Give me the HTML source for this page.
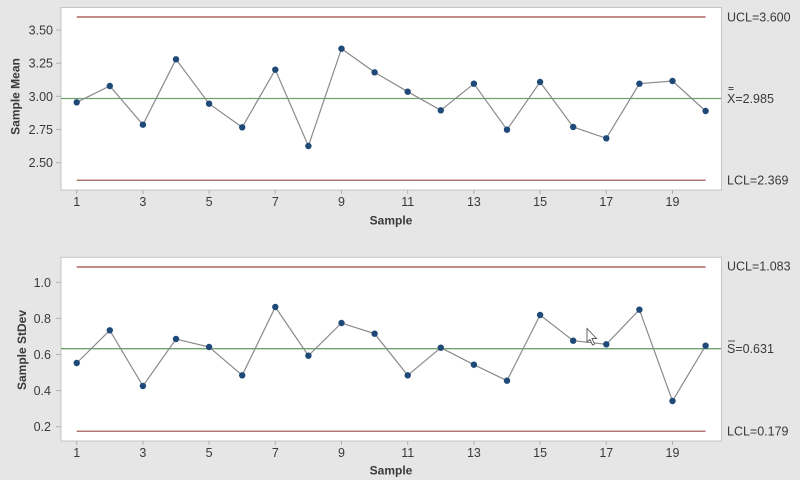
<!DOCTYPE html>
<html><head><meta charset="utf-8"><style>
html,body{margin:0;padding:0;background:#e6e6e6;}
svg{display:block;}
text{font-family:"Liberation Sans",sans-serif;fill:#3a3a3a;}
.t{font-size:12.5px;}
.b{font-size:12px;font-weight:bold;}
</style></head><body>
<svg width="800" height="480" viewBox="0 0 800 480" xmlns="http://www.w3.org/2000/svg">
<rect width="800" height="480" fill="#e6e6e6"/>
<!-- TOP CHART -->
<rect x="61" y="7.5" width="660.5" height="182.5" fill="#fff" stroke="#c4c4c4" stroke-width="1"/>
<g stroke="#b0b0b0" stroke-width="1">
<line x1="56" y1="30" x2="61" y2="30"/><line x1="56" y1="63.2" x2="61" y2="63.2"/><line x1="56" y1="96.3" x2="61" y2="96.3"/><line x1="56" y1="129.5" x2="61" y2="129.5"/><line x1="56" y1="162.7" x2="61" y2="162.7"/>
<line x1="76.7" y1="190" x2="76.7" y2="194"/><line x1="142.9" y1="190" x2="142.9" y2="194"/><line x1="209.1" y1="190" x2="209.1" y2="194"/><line x1="275.3" y1="190" x2="275.3" y2="194"/><line x1="341.5" y1="190" x2="341.5" y2="194"/><line x1="407.7" y1="190" x2="407.7" y2="194"/><line x1="473.9" y1="190" x2="473.9" y2="194"/><line x1="540.1" y1="190" x2="540.1" y2="194"/><line x1="606.3" y1="190" x2="606.3" y2="194"/><line x1="672.5" y1="190" x2="672.5" y2="194"/>
</g>
<g class="t" text-anchor="end">
<text x="53" y="34.5">3.50</text><text x="53" y="67.7">3.25</text><text x="53" y="100.8">3.00</text><text x="53" y="134">2.75</text><text x="53" y="167.2">2.50</text>
</g>
<g class="t" text-anchor="middle">
<text x="76.7" y="206">1</text><text x="142.9" y="206">3</text><text x="209.1" y="206">5</text><text x="275.3" y="206">7</text><text x="341.5" y="206">9</text><text x="407.7" y="206">11</text><text x="473.9" y="206">13</text><text x="540.1" y="206">15</text><text x="606.3" y="206">17</text><text x="672.5" y="206">19</text>
</g>
<text class="b" x="391" y="224.5" text-anchor="middle">Sample</text>
<text class="b" transform="translate(19.5,96.5) rotate(-90)" text-anchor="middle">Sample Mean</text>
<line x1="76.7" y1="17" x2="705.6" y2="17" stroke="#9a4a44" stroke-width="1.2"/>
<line x1="76.7" y1="180.2" x2="705.6" y2="180.2" stroke="#9a4a44" stroke-width="1.2"/>
<line x1="61" y1="98.5" x2="721" y2="98.5" stroke="#6fa26f" stroke-width="1.3"/>
<polyline fill="none" stroke="#8a8a8a" stroke-width="1.2" points="76.7,102.3 109.8,86 142.9,124.7 176,59.3 209.1,103.7 242.2,127.3 275.3,69.7 308.4,146 341.5,48.7 374.6,72.3 407.7,91.7 440.8,110.3 473.9,83.7 507,129.7 540.1,82 573.2,127 606.3,138.3 639.4,83.7 672.5,81 705.6,111"/>
<g fill="#1f4a78">
<circle cx="76.7" cy="102.3" r="3.2"/><circle cx="109.8" cy="86" r="3.2"/><circle cx="142.9" cy="124.7" r="3.2"/><circle cx="176" cy="59.3" r="3.2"/><circle cx="209.1" cy="103.7" r="3.2"/><circle cx="242.2" cy="127.3" r="3.2"/><circle cx="275.3" cy="69.7" r="3.2"/><circle cx="308.4" cy="146" r="3.2"/><circle cx="341.5" cy="48.7" r="3.2"/><circle cx="374.6" cy="72.3" r="3.2"/><circle cx="407.7" cy="91.7" r="3.2"/><circle cx="440.8" cy="110.3" r="3.2"/><circle cx="473.9" cy="83.7" r="3.2"/><circle cx="507" cy="129.7" r="3.2"/><circle cx="540.1" cy="82" r="3.2"/><circle cx="573.2" cy="127" r="3.2"/><circle cx="606.3" cy="138.3" r="3.2"/><circle cx="639.4" cy="83.7" r="3.2"/><circle cx="672.5" cy="81" r="3.2"/><circle cx="705.6" cy="111" r="3.2"/>
</g>
<g class="t">
<text x="727" y="21.5">UCL=3.600</text>
<text x="727" y="103">X=2.985</text>
<text x="727" y="184.5">LCL=2.369</text>
</g>
<line x1="728.5" y1="87.5" x2="733.5" y2="87.5" stroke="#3a3a3a" stroke-width="0.9"/>
<line x1="728.5" y1="89.5" x2="733.5" y2="89.5" stroke="#3a3a3a" stroke-width="0.9"/>

<!-- BOTTOM CHART -->
<rect x="61" y="257.3" width="660.5" height="183.7" fill="#fff" stroke="#c4c4c4" stroke-width="1"/>
<g stroke="#b0b0b0" stroke-width="1">
<line x1="56" y1="282.3" x2="61" y2="282.3"/><line x1="56" y1="318.4" x2="61" y2="318.4"/><line x1="56" y1="354.5" x2="61" y2="354.5"/><line x1="56" y1="390.6" x2="61" y2="390.6"/><line x1="56" y1="426.7" x2="61" y2="426.7"/>
<line x1="76.7" y1="441" x2="76.7" y2="445"/><line x1="142.9" y1="441" x2="142.9" y2="445"/><line x1="209.1" y1="441" x2="209.1" y2="445"/><line x1="275.3" y1="441" x2="275.3" y2="445"/><line x1="341.5" y1="441" x2="341.5" y2="445"/><line x1="407.7" y1="441" x2="407.7" y2="445"/><line x1="473.9" y1="441" x2="473.9" y2="445"/><line x1="540.1" y1="441" x2="540.1" y2="445"/><line x1="606.3" y1="441" x2="606.3" y2="445"/><line x1="672.5" y1="441" x2="672.5" y2="445"/>
</g>
<g class="t" text-anchor="end">
<text x="51" y="286.8">1.0</text><text x="51" y="322.9">0.8</text><text x="51" y="359">0.6</text><text x="51" y="395.1">0.4</text><text x="51" y="431.2">0.2</text>
</g>
<g class="t" text-anchor="middle">
<text x="76.7" y="457">1</text><text x="142.9" y="457">3</text><text x="209.1" y="457">5</text><text x="275.3" y="457">7</text><text x="341.5" y="457">9</text><text x="407.7" y="457">11</text><text x="473.9" y="457">13</text><text x="540.1" y="457">15</text><text x="606.3" y="457">17</text><text x="672.5" y="457">19</text>
</g>
<text class="b" x="391" y="474.5" text-anchor="middle">Sample</text>
<text class="b" transform="translate(26,350) rotate(-90)" text-anchor="middle">Sample StDev</text>
<line x1="76.7" y1="267" x2="705.6" y2="267" stroke="#9a4a44" stroke-width="1.2"/>
<line x1="76.7" y1="431.2" x2="705.6" y2="431.2" stroke="#9a4a44" stroke-width="1.2"/>
<line x1="61" y1="348.7" x2="721" y2="348.7" stroke="#6fa26f" stroke-width="1.3"/>
<polyline fill="none" stroke="#8a8a8a" stroke-width="1.2" points="76.7,363 109.8,330.3 142.9,386 176,339 209.1,347 242.2,375.3 275.3,307 308.4,355.7 341.5,323 374.6,333.7 407.7,375.3 440.8,347.7 473.9,364.7 507,380.7 540.1,315 573.2,340.7 606.3,344.3 639.4,309.7 672.5,401 705.6,345.7"/>
<g fill="#1f4a78">
<circle cx="76.7" cy="363" r="3.2"/><circle cx="109.8" cy="330.3" r="3.2"/><circle cx="142.9" cy="386" r="3.2"/><circle cx="176" cy="339" r="3.2"/><circle cx="209.1" cy="347" r="3.2"/><circle cx="242.2" cy="375.3" r="3.2"/><circle cx="275.3" cy="307" r="3.2"/><circle cx="308.4" cy="355.7" r="3.2"/><circle cx="341.5" cy="323" r="3.2"/><circle cx="374.6" cy="333.7" r="3.2"/><circle cx="407.7" cy="375.3" r="3.2"/><circle cx="440.8" cy="347.7" r="3.2"/><circle cx="473.9" cy="364.7" r="3.2"/><circle cx="507" cy="380.7" r="3.2"/><circle cx="540.1" cy="315" r="3.2"/><circle cx="573.2" cy="340.7" r="3.2"/><circle cx="606.3" cy="344.3" r="3.2"/><circle cx="639.4" cy="309.7" r="3.2"/><circle cx="672.5" cy="401" r="3.2"/><circle cx="705.6" cy="345.7" r="3.2"/>
</g>
<g class="t">
<text x="727" y="270.5">UCL=1.083</text>
<text x="727" y="353">S=0.631</text>
<text x="727" y="435.5">LCL=0.179</text>
</g>
<line x1="728" y1="341" x2="735" y2="341" stroke="#3a3a3a" stroke-width="0.9"/>
<!-- cursor -->
<path d="M587,328.5 L587,342 L590,339.5 L592.5,345 L594.5,344 L592,338.5 L596.5,338.5 Z" fill="#fff" stroke="#555" stroke-width="0.9"/>
</svg>
</body></html>
